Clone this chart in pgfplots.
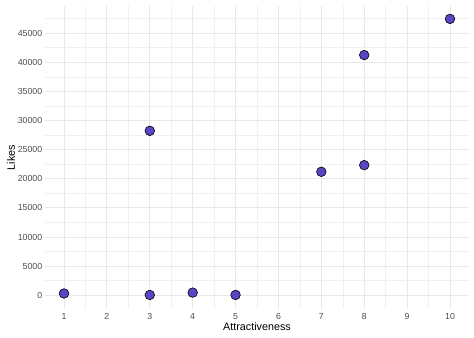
\documentclass[border=0pt]{standalone}
\usepackage{fontspec}
\setmainfont{Liberation Sans}
\usepackage{pgfplots}
\pgfplotsset{compat=1.18}
\definecolor{gridmaj}{HTML}{E8E8E8}
\definecolor{gridmin}{HTML}{F0F0F0}
\definecolor{tickgray}{HTML}{4D4D4D}
\definecolor{ptfill}{HTML}{5A45C6}
\begin{document}
\begin{tikzpicture}
\begin{axis}[
  name=ax,
  scale only axis,
  width=424.6bp, height=303bp,
  xmin=0.55, xmax=10.45,
  ymin=-2365, ymax=49665,
  axis line style={draw=none},
  tick style={draw=none},
  xtick={1,...,10},
  ytick={0,5000,...,45000},
  minor xtick={1.5,2.5,...,9.5},
  minor ytick={2500,7500,...,47500},
  grid=both,
  major grid style={gridmaj, line width=0.9pt},
  minor grid style={gridmin, line width=0.5pt},
  scaled y ticks=false,
  /pgf/number format/assume math mode=true,
  /pgf/number format/fixed,
  /pgf/number format/1000 sep={},
  /pgf/number format/precision=0,
  ticklabel style={font=\fontsize{8.8}{10}\selectfont, text=tickgray},
  xticklabel style={yshift=-1bp},
  yticklabel style={xshift=1bp},
  xlabel={Attractiveness},
  ylabel={Likes},
  label style={font=\fontsize{10.8}{12}\selectfont},
  xlabel style={yshift=3.5bp},
  ylabel style={yshift=-4bp},
  clip=false,
]
\addplot[only marks, mark=*, mark size=4.8bp,
  mark options={fill=ptfill, draw=black, line width=0.6pt}]
  coordinates {
   (1,300) (3,28230) (3,50) (4,450) (5,50)
   (7,21200) (8,41240) (8,22340) (10,47450)
  };
\end{axis}
\path[use as bounding box] (ax.south west) ++(-44.7bp,-29bp) rectangle ++(474bp,338bp);
\end{tikzpicture}
\end{document}
